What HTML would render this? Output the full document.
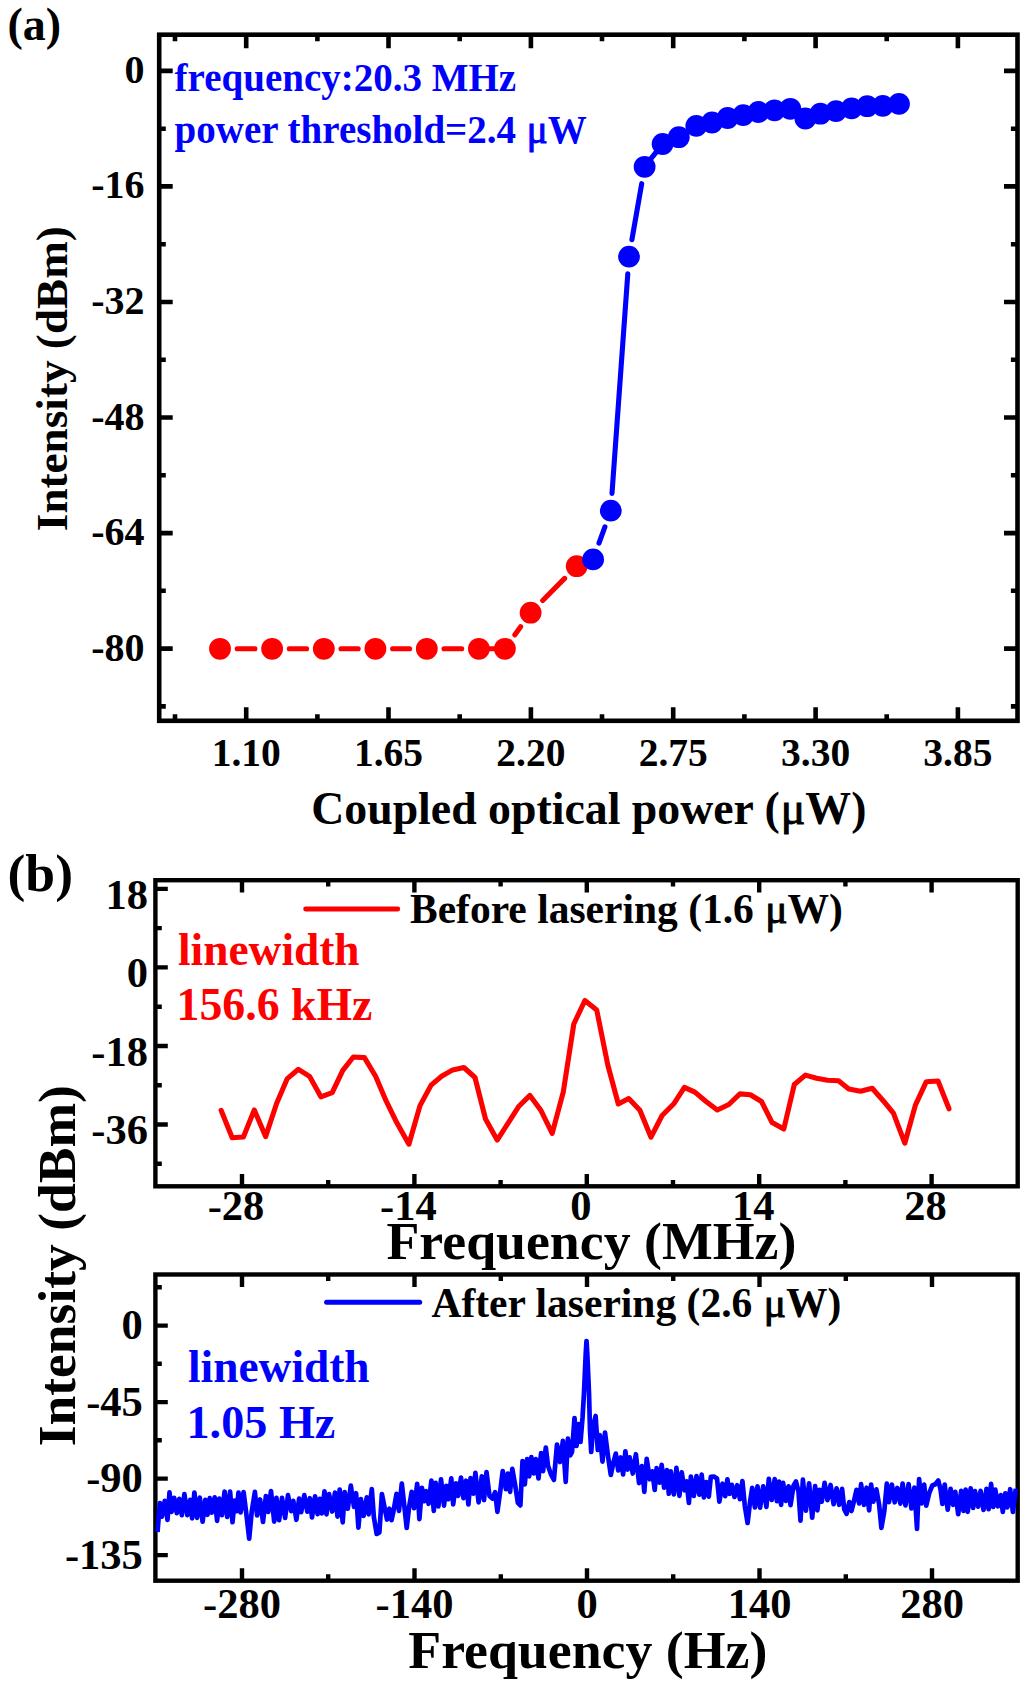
<!DOCTYPE html>
<html><head><meta charset="utf-8"><style>
html,body{margin:0;padding:0;background:#fff;width:1025px;height:1687px;overflow:hidden}
svg{display:block}
text{font-family:"Liberation Serif",serif}
</style></head><body>
<svg width="1025" height="1687" viewBox="0 0 1025 1687"><rect x="159.2" y="34.7" width="858.3" height="686.1" fill="none" stroke="#000" stroke-width="4.6"/>
<path d="M159.2 70.9h13.5M1017.5 70.9h-13.5M159.2 186.4h13.5M1017.5 186.4h-13.5M159.2 302.0h13.5M1017.5 302.0h-13.5M159.2 417.5h13.5M1017.5 417.5h-13.5M159.2 533.1h13.5M1017.5 533.1h-13.5M159.2 648.6h13.5M1017.5 648.6h-13.5M159.2 128.7h6.6M1017.5 128.7h-6.6M159.2 244.2h6.6M1017.5 244.2h-6.6M159.2 359.8h6.6M1017.5 359.8h-6.6M159.2 475.3h6.6M1017.5 475.3h-6.6M159.2 590.8h6.6M1017.5 590.8h-6.6M159.2 706.4h6.6M1017.5 706.4h-6.6M246.2 720.8v-13.5M246.2 34.7v13.5M388.5 720.8v-13.5M388.5 34.7v13.5M530.9 720.8v-13.5M530.9 34.7v13.5M673.2 720.8v-13.5M673.2 34.7v13.5M815.6 720.8v-13.5M815.6 34.7v13.5M957.9 720.8v-13.5M957.9 34.7v13.5M175.0 720.8v-6.6M175.0 34.7v6.6M317.4 720.8v-6.6M317.4 34.7v6.6M459.7 720.8v-6.6M459.7 34.7v6.6M602.0 720.8v-6.6M602.0 34.7v6.6M744.4 720.8v-6.6M744.4 34.7v6.6M886.7 720.8v-6.6M886.7 34.7v6.6" stroke="#000" stroke-width="4.6" fill="none"/>
<text x="144.5" y="82.9" text-anchor="end" font-weight="bold" font-size="40">0</text>
<text x="144.5" y="198.4" text-anchor="end" font-weight="bold" font-size="40">-16</text>
<text x="144.5" y="314.0" text-anchor="end" font-weight="bold" font-size="40">-32</text>
<text x="144.5" y="429.5" text-anchor="end" font-weight="bold" font-size="40">-48</text>
<text x="144.5" y="545.1" text-anchor="end" font-weight="bold" font-size="40">-64</text>
<text x="144.5" y="660.6" text-anchor="end" font-weight="bold" font-size="40">-80</text>
<text x="246.2" y="766" text-anchor="middle" font-weight="bold" font-size="39.5">1.10</text>
<text x="388.5" y="766" text-anchor="middle" font-weight="bold" font-size="39.5">1.65</text>
<text x="530.9" y="766" text-anchor="middle" font-weight="bold" font-size="39.5">2.20</text>
<text x="673.2" y="766" text-anchor="middle" font-weight="bold" font-size="39.5">2.75</text>
<text x="815.6" y="766" text-anchor="middle" font-weight="bold" font-size="39.5">3.30</text>
<text x="957.9" y="766" text-anchor="middle" font-weight="bold" font-size="39.5">3.85</text>
<text x="311.2" y="824.4" font-weight="bold" font-size="45.8">Coupled optical power (<tspan font-weight="normal" stroke="#000" stroke-width="1.0" dx="1">μ</tspan><tspan dx="0">W)</tspan></text>
<text transform="translate(66.6,531.2) rotate(-90)" font-weight="bold" font-size="45.2">Intensity (dBm)</text>
<text x="7.5" y="39.5" font-weight="bold" font-size="46">(a)</text>
<text x="174.6" y="90.8" font-weight="bold" font-size="39" fill="#0000ff">frequency:20.3 MHz</text>
<text x="174.6" y="142.6" font-weight="bold" font-size="39" fill="#0000ff">power threshold=2.4 <tspan font-weight="normal" stroke="#0000ff" stroke-width="1.0" dx="1">μ</tspan>W</text>
<path d="M237.2 648.8L254.9 648.8M289.3 648.8L306.6 648.8M341.0 648.8L358.2 648.8M392.6 648.8L409.6 648.8M444.0 648.8L461.7 648.8M489.8 648.8L494.0 648.8M514.9 634.8L520.6 626.7M542.7 600.5L564.6 578.4" stroke="#ff0000" stroke-width="5.1" stroke-linecap="round" fill="none"/>
<circle cx="220.0" cy="648.8" r="10.9" fill="#ff0000"/>
<circle cx="272.1" cy="648.8" r="10.9" fill="#ff0000"/>
<circle cx="323.8" cy="648.8" r="10.9" fill="#ff0000"/>
<circle cx="375.4" cy="648.8" r="10.9" fill="#ff0000"/>
<circle cx="426.8" cy="648.8" r="10.9" fill="#ff0000"/>
<circle cx="478.9" cy="648.8" r="10.9" fill="#ff0000"/>
<circle cx="504.9" cy="648.8" r="10.9" fill="#ff0000"/>
<circle cx="530.6" cy="612.7" r="10.9" fill="#ff0000"/>
<circle cx="576.7" cy="566.2" r="10.9" fill="#ff0000"/>
<path d="M599.0 543.2L604.9 526.8M612.0 493.4L627.8 273.8M631.9 239.7L641.7 183.7M651.4 158.2L655.8 152.6M672.7 139.8L668.7 141.4M688.0 131.3L687.1 131.8M707.0 123.6L701.3 124.8M722.5 119.5L717.1 121.0M738.3 116.0L732.5 117.1M753.9 112.9L747.8 114.2M769.3 110.8L763.7 111.5M785.4 109.3L779.4 109.8M799.5 114.7L796.2 112.6M815.8 115.2L810.0 117.0M831.2 111.9L825.2 112.9M846.7 109.2L840.9 110.3M862.4 106.9L856.4 107.7M878.1 106.0L871.9 106.1M893.6 104.6L888.2 105.2" stroke="#0000ff" stroke-width="5.1" stroke-linecap="round" fill="none"/>
<circle cx="593.1" cy="559.4" r="10.9" fill="#0000ff"/>
<circle cx="610.8" cy="510.6" r="10.9" fill="#0000ff"/>
<circle cx="629" cy="256.6" r="10.9" fill="#0000ff"/>
<circle cx="644.6" cy="166.8" r="10.9" fill="#0000ff"/>
<circle cx="662.6" cy="144" r="10.9" fill="#0000ff"/>
<circle cx="678.8" cy="137.2" r="10.9" fill="#0000ff"/>
<circle cx="696.3" cy="125.9" r="10.9" fill="#0000ff"/>
<circle cx="712" cy="122.5" r="10.9" fill="#0000ff"/>
<circle cx="727.6" cy="118" r="10.9" fill="#0000ff"/>
<circle cx="743.2" cy="115.1" r="10.9" fill="#0000ff"/>
<circle cx="758.5" cy="112" r="10.9" fill="#0000ff"/>
<circle cx="774.5" cy="110.3" r="10.9" fill="#0000ff"/>
<circle cx="790.3" cy="108.8" r="10.9" fill="#0000ff"/>
<circle cx="805.4" cy="118.5" r="10.9" fill="#0000ff"/>
<circle cx="820.4" cy="113.7" r="10.9" fill="#0000ff"/>
<circle cx="836" cy="111.1" r="10.9" fill="#0000ff"/>
<circle cx="851.6" cy="108.4" r="10.9" fill="#0000ff"/>
<circle cx="867.2" cy="106.2" r="10.9" fill="#0000ff"/>
<circle cx="882.8" cy="105.9" r="10.9" fill="#0000ff"/>
<circle cx="899" cy="103.9" r="10.9" fill="#0000ff"/>
<rect x="155.4" y="880.2" width="862.3" height="306.1" fill="none" stroke="#000" stroke-width="4.4"/>
<path d="M155.4 888.9h12.4M155.4 967.4h12.4M155.4 1046.0h12.4M155.4 1124.5h12.4M155.4 928.1h6.4M155.4 1006.7h6.4M155.4 1085.2h6.4M155.4 1163.8h6.4M242.0 1186.3v-12.4M242.0 880.2v12.4M414.4 1186.3v-12.4M414.4 880.2v12.4M586.8 1186.3v-12.4M586.8 880.2v12.4M759.2 1186.3v-12.4M759.2 880.2v12.4M931.6 1186.3v-12.4M931.6 880.2v12.4M328.2 1186.3v-6.4M328.2 880.2v6.4M500.6 1186.3v-6.4M500.6 880.2v6.4M673.0 1186.3v-6.4M673.0 880.2v6.4M845.4 1186.3v-6.4M845.4 880.2v6.4" stroke="#000" stroke-width="4.4" fill="none"/>
<text x="148" y="908.6" text-anchor="end" font-weight="bold" font-size="42.5">18</text>
<text x="148" y="987.1" text-anchor="end" font-weight="bold" font-size="42.5">0</text>
<text x="148" y="1065.7" text-anchor="end" font-weight="bold" font-size="42.5">-18</text>
<text x="148" y="1144.2" text-anchor="end" font-weight="bold" font-size="42.5">-36</text>
<text x="236.0" y="1220" text-anchor="middle" font-weight="bold" font-size="42.5">-28</text>
<text x="408.4" y="1220" text-anchor="middle" font-weight="bold" font-size="42.5">-14</text>
<text x="580.8" y="1220" text-anchor="middle" font-weight="bold" font-size="42.5">0</text>
<text x="753.2" y="1220" text-anchor="middle" font-weight="bold" font-size="42.5">14</text>
<text x="925.6" y="1220" text-anchor="middle" font-weight="bold" font-size="42.5">28</text>
<text x="386.5" y="1259" font-weight="bold" font-size="53.8">Frequency (MHz)</text>
<text x="7.5" y="891" font-weight="bold" font-size="53.6">(b)</text>
<path d="M305.6 909H397.8" stroke="#ff0000" stroke-width="4.8" stroke-linecap="round"/>
<text x="410" y="923.2" font-weight="bold" font-size="41.5">Before lasering (1.6 <tspan font-weight="normal" stroke="#000" stroke-width="1.0" dx="1">μ</tspan><tspan dx="0">W)</tspan></text>
<text x="178" y="965" font-weight="bold" font-size="45.4" fill="#ff0000">linewidth</text>
<text x="176.5" y="1020.4" font-weight="bold" font-size="45.8" fill="#ff0000">156.6 kHz</text>
<path d="M221.1 1110.3L232.2 1137.8L243.4 1137L254.3 1110L265.6 1136.6L276.7 1103.2L287.3 1078.6L298.4 1069.3L309.5 1076.3L320.9 1096.8L332.2 1092.7L342.8 1070.4L353.3 1057L364.4 1057.6L375.6 1076.3L386.1 1100.9L396.7 1122.6L408.9 1144.2L420 1105.6L431.1 1085.1L441.6 1076.3L452.7 1069.9L463.9 1067.5L475 1077.5L485.5 1119L497.2 1140.1L508.1 1123.1L518.9 1106.2L529.9 1095.4L541 1110.6L552.2 1133.4L563.3 1091.9L573.8 1024L584.9 1000.5L596.7 1009.9L607.8 1065L618.3 1104L628.7 1098.5L639.9 1110.3L651 1137.2L662.1 1115.5L673.8 1103.8L684.4 1087.4L694.9 1092.1L706 1101.5L717.3 1110L728.8 1104.5L739.9 1093.9L750.4 1094.8L761.5 1101.5L772.1 1122.6L783.8 1129L794.3 1084.5L805.4 1075.1L816.6 1078.3L827.6 1080.2L838.5 1080.7L848.8 1089L860.5 1091.2L872.2 1088.3L883.2 1100.7L893.4 1113.2L904.8 1143.2L915.4 1105.1L926.3 1081.7L938 1081L949 1108.8" stroke="#ff0000" stroke-width="5.1" fill="none" stroke-linejoin="round" stroke-linecap="round"/>
<rect x="155.4" y="1274.5" width="862.3" height="306.2" fill="none" stroke="#000" stroke-width="4.4"/>
<path d="M155.4 1325.6h12.4M155.4 1402.1h12.4M155.4 1478.6h12.4M155.4 1555.1h12.4M155.4 1287.3h6.4M155.4 1363.8h6.4M155.4 1440.3h6.4M155.4 1516.8h6.4M242.0 1580.7v-12.4M242.0 1274.5v12.4M414.5 1580.7v-12.4M414.5 1274.5v12.4M587.0 1580.7v-12.4M587.0 1274.5v12.4M759.5 1580.7v-12.4M759.5 1274.5v12.4M932.0 1580.7v-12.4M932.0 1274.5v12.4M328.2 1580.7v-6.4M328.2 1274.5v6.4M500.8 1580.7v-6.4M500.8 1274.5v6.4M673.2 1580.7v-6.4M673.2 1274.5v6.4M845.8 1580.7v-6.4M845.8 1274.5v6.4" stroke="#000" stroke-width="4.4" fill="none"/>
<text x="142.8" y="1339.3" text-anchor="end" font-weight="bold" font-size="42.5">0</text>
<text x="142.8" y="1415.8" text-anchor="end" font-weight="bold" font-size="42.5">-45</text>
<text x="142.8" y="1492.3" text-anchor="end" font-weight="bold" font-size="42.5">-90</text>
<text x="142.8" y="1568.8" text-anchor="end" font-weight="bold" font-size="42.5">-135</text>
<text x="242.0" y="1618.2" text-anchor="middle" font-weight="bold" font-size="42.5">-280</text>
<text x="414.5" y="1618.2" text-anchor="middle" font-weight="bold" font-size="42.5">-140</text>
<text x="587.0" y="1618.2" text-anchor="middle" font-weight="bold" font-size="42.5">0</text>
<text x="759.5" y="1618.2" text-anchor="middle" font-weight="bold" font-size="42.5">140</text>
<text x="932.0" y="1618.2" text-anchor="middle" font-weight="bold" font-size="42.5">280</text>
<text x="408.3" y="1668.3" font-weight="bold" font-size="53.8">Frequency (Hz)</text>
<text transform="translate(75.3,1446.3) rotate(-90)" font-weight="bold" font-size="53.5">Intensity (dBm)</text>
<path d="M326.6 1302.3H419.7" stroke="#0000ff" stroke-width="5" stroke-linecap="round"/>
<text x="431.5" y="1316.5" font-weight="bold" font-size="41.5">After lasering (2.6 <tspan font-weight="normal" stroke="#000" stroke-width="1.0" dx="1">μ</tspan><tspan dx="0">W)</tspan></text>
<text x="188" y="1382" font-weight="bold" font-size="45.4" fill="#0000ff">linewidth</text>
<text x="186.5" y="1437.9" font-weight="bold" font-size="46.2" fill="#0000ff">1.05 Hz</text>
<path d="M157.5 1532.0L159.9 1503.0L161.8 1516.7L164.8 1500.8L167.5 1519.9L169.5 1492.4L171.6 1511.9L174.2 1497.8L176.8 1513.2L179.3 1498.8L181.8 1515.2L184.4 1494.0L187.3 1515.1L190.2 1499.8L192.1 1518.3L194.4 1492.5L197.1 1517.8L199.8 1497.7L202.6 1521.7L205.3 1499.9L207.5 1514.8L209.7 1498.2L211.7 1512.7L214.7 1497.4L217.1 1520.8L219.3 1498.5L221.9 1515.2L224.6 1491.5L227.2 1516.9L230.1 1491.7L232.5 1522.2L234.6 1500.5L236.6 1511.2L238.5 1492.6L240.6 1512.5L243.6 1492.0L246.2 1512.7L249.2 1538.7L251.7 1511.8L254.9 1491.9L257.1 1515.5L260.1 1499.5L263.0 1522.0L265.9 1496.0L268.2 1511.9L271.0 1491.0L274.2 1521.6L276.4 1497.9L279.1 1520.2L282.0 1497.9L285.1 1518.0L288.0 1495.1L291.2 1511.1L293.3 1500.9L296.4 1519.8L299.1 1498.7L301.2 1512.2L304.3 1495.1L307.3 1511.7L309.9 1498.2L312.0 1517.5L315.1 1496.4L317.6 1514.1L319.8 1498.9L321.9 1513.3L324.5 1491.3L326.5 1514.3L329.1 1494.1L332.2 1511.5L335.0 1492.6L337.5 1516.6L339.7 1489.5L342.7 1522.4L344.7 1492.2L347.8 1508.7L350.8 1485.6L354.0 1506.8L356.1 1493.2L358.4 1527.6L360.9 1499.0L363.6 1515.9L366.8 1497.3L368.7 1514.3L371.8 1489.0L373.9 1517.4L376.7 1534.0L379.4 1532.4L381.9 1494.0L385.0 1509.7L387.0 1519.5L389.4 1508.7L391.5 1520.2L393.4 1511.7L396.5 1493.8L399.0 1510.8L401.8 1483.6L404.8 1510.3L406.7 1528.0L409.0 1507.7L411.7 1491.8L414.0 1508.2L417.2 1483.9L419.4 1519.1L421.9 1487.8L424.5 1501.1L426.4 1491.2L428.6 1503.8L431.4 1480.7L433.8 1510.9L435.7 1482.9L438.4 1506.5L441.0 1479.3L444.0 1505.6L446.2 1485.9L448.5 1499.3L451.3 1478.3L453.2 1504.3L455.9 1483.4L458.1 1495.9L461.0 1477.5L463.4 1498.1L466.1 1480.7L468.4 1504.5L470.6 1478.0L473.4 1493.6L475.4 1472.8L478.6 1502.3L481.8 1476.3L484.0 1500.1L486.5 1472.1L489.5 1496.0L492.6 1498.6L495.1 1492.2L497.4 1511.8L500.4 1490.1L502.7 1471.0L505.9 1489.2L507.8 1473.7L510.1 1491.8L512.3 1468.9L515.3 1486.0L517.9 1502.8L520.4 1505.4L522.5 1461.2L524.8 1484.4L527.1 1459.1L529.2 1476.3L531.4 1457.0L533.8 1473.4L535.9 1459.1L538.5 1478.5L541.1 1453.2L543.1 1471.1L545.8 1447.5L548.0 1465.7L551.0 1474.5L553.9 1480.0L557.0 1444.5L560.1 1462.0L562.9 1440.9L565.7 1481.9L567.9 1438.7L570.2 1455.3L572.0 1452.0L574.5 1418.0L576.5 1446.0L578.5 1424.0L580.5 1442.0L582.5 1418.0L584.0 1393.0L585.7 1354.0L586.5 1341.0L587.3 1354.0L589.0 1393.0L590.0 1430.0L591.2 1452.0L593.2 1426.0L595.6 1416.0L597.8 1450.0L599.8 1435.1L602.5 1461.6L605.0 1432.6L608.0 1456.1L610.8 1474.9L613.6 1461.8L615.8 1453.6L618.2 1470.5L620.8 1457.5L623.1 1474.4L625.4 1451.3L627.5 1469.6L629.6 1457.3L632.8 1473.5L635.9 1454.2L639.0 1483.1L641.9 1466.0L644.3 1491.9L646.7 1458.8L649.8 1479.3L652.3 1471.3L654.7 1490.0L656.6 1468.1L659.5 1482.6L661.7 1464.9L664.1 1487.7L666.9 1470.0L668.8 1493.7L670.7 1471.4L673.9 1494.4L676.4 1467.9L679.4 1495.8L681.7 1472.4L684.6 1490.3L686.6 1481.3L688.9 1503.0L690.9 1476.5L693.8 1495.9L696.5 1476.1L699.3 1494.7L701.7 1474.7L703.9 1497.5L706.2 1482.0L708.8 1496.6L710.8 1476.9L713.8 1476.5L717.0 1478.5L719.4 1501.7L722.5 1483.7L725.2 1496.1L727.4 1479.3L729.6 1493.8L731.9 1484.9L734.5 1496.9L737.2 1485.2L740.0 1499.2L742.4 1481.1L744.8 1505.8L747.6 1523.0L750.1 1501.6L752.2 1487.8L754.9 1507.4L757.5 1486.4L760.1 1507.6L763.2 1486.4L766.4 1506.9L768.8 1478.9L771.7 1500.0L774.7 1479.1L776.9 1501.2L779.1 1481.5L781.1 1504.8L783.1 1482.9L785.9 1500.9L788.6 1486.3L790.5 1505.1L793.5 1485.8L796.0 1481.5L798.5 1491.6L800.5 1520.6L802.9 1479.7L805.9 1510.7L809.1 1483.3L812.2 1517.7L815.1 1486.0L817.4 1510.3L819.5 1489.8L821.8 1501.7L824.6 1482.9L827.5 1500.1L830.6 1485.0L833.6 1504.2L836.6 1488.3L839.2 1504.8L842.1 1488.9L844.3 1509.4L846.6 1513.8L849.3 1502.1L851.5 1511.0L853.9 1501.4L856.5 1489.8L859.1 1503.4L861.1 1484.2L864.0 1505.0L866.6 1487.7L869.1 1510.3L871.1 1484.6L873.3 1501.6L876.4 1489.3L879.1 1504.3L881.4 1527.9L884.3 1511.0L886.8 1483.7L889.0 1502.1L891.9 1484.5L894.7 1502.3L897.3 1488.0L900.4 1503.6L902.6 1483.6L905.5 1505.5L908.6 1484.1L911.4 1508.4L914.4 1487.6L917.0 1528.8L919.1 1479.0L921.5 1503.4L924.2 1484.7L926.2 1505.7L929.2 1493.1L932.3 1485.5L935.3 1484.3L938.3 1480.5L940.5 1489.3L942.4 1504.0L944.7 1484.6L947.7 1509.7L950.6 1488.9L953.2 1504.8L955.3 1491.8L958.2 1514.1L961.2 1490.9L963.5 1511.0L965.7 1489.6L967.7 1511.8L970.7 1488.3L973.1 1507.9L975.0 1491.2L978.1 1506.6L980.6 1490.8L983.5 1509.9L986.5 1488.8L988.6 1509.2L991.1 1483.9L993.2 1507.0L995.3 1489.7L997.9 1506.3L1000.8 1495.1L1002.8 1511.9L1005.3 1493.4L1007.3 1507.5L1010.2 1489.2L1012.9 1512.0L1015.8 1488.8" stroke="#0000ff" stroke-width="4.7" fill="none" stroke-linejoin="round"/></svg>
</body></html>
